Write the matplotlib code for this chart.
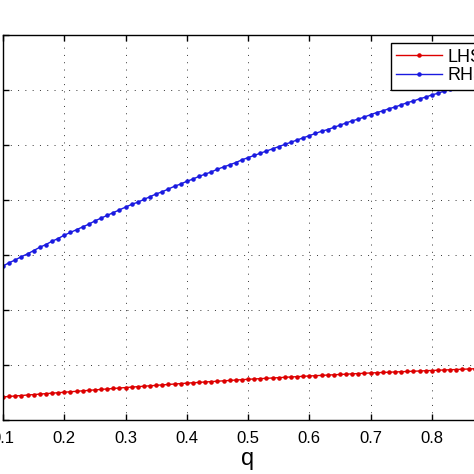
import numpy as np
import matplotlib
matplotlib.use('Agg')
import matplotlib.pyplot as plt

plt.rcParams['font.family'] = ['Liberation Sans', 'DejaVu Sans']

q = [round(0.10 + 0.01 * i, 2) for i in range(81)]

lhs = [0.420, 0.428, 0.437, 0.445, 0.454, 0.462, 0.471, 0.479, 0.488, 0.496, 0.505,
       0.513, 0.522, 0.530, 0.539, 0.547, 0.556, 0.564, 0.573, 0.581, 0.590,
       0.598, 0.606, 0.614, 0.622, 0.630, 0.638, 0.646, 0.654, 0.662, 0.670,
       0.677, 0.684, 0.691, 0.698, 0.705, 0.712, 0.719, 0.726, 0.733, 0.740,
       0.746, 0.752, 0.758, 0.764, 0.770, 0.776, 0.782, 0.788, 0.794, 0.800,
       0.806, 0.811, 0.817, 0.822, 0.828, 0.833, 0.839, 0.844, 0.850, 0.855,
       0.860, 0.864, 0.869, 0.873, 0.878, 0.882, 0.887, 0.891, 0.896, 0.900,
       0.905, 0.909, 0.914, 0.918, 0.923, 0.927, 0.932, 0.936, 0.941, 0.945]

rhs = [2.80, 2.86, 2.91, 2.97, 3.02, 3.08, 3.14, 3.19, 3.25, 3.30, 3.36,
       3.41, 3.46, 3.51, 3.56, 3.62, 3.67, 3.72, 3.77, 3.82, 3.87,
       3.92, 3.96, 4.01, 4.06, 4.11, 4.15, 4.20, 4.25, 4.29, 4.34,
       4.38, 4.43, 4.47, 4.51, 4.56, 4.60, 4.64, 4.68, 4.73, 4.77,
       4.81, 4.85, 4.89, 4.93, 4.97, 5.01, 5.05, 5.09, 5.13, 5.17,
       5.21, 5.25, 5.28, 5.32, 5.36, 5.40, 5.44, 5.47, 5.51, 5.55,
       5.59, 5.62, 5.66, 5.69, 5.73, 5.77, 5.80, 5.84, 5.87, 5.91,
       5.94, 5.98, 6.01, 6.05, 6.08, 6.12, 6.15, 6.19, 6.22, 6.26]

xticks = [0.1, 0.2, 0.3, 0.4, 0.5, 0.6, 0.7, 0.8, 0.9]
yticks = [0, 1, 2, 3, 4, 5, 6, 7]

fig = plt.figure(figsize=(4.74, 4.74), dpi=100)
# the original picture is a crop, axes run past the left/right edges
ax = fig.add_axes([3 / 474, 54 / 474, 490 / 474, 385 / 474])

ax.plot(q, lhs, color='#dd0000', marker='.', markersize=4.5, linewidth=1.0, label='LHS')
ax.plot(q, rhs, color='#1a1ae0', marker='.', markersize=4.5, linewidth=1.0, label='RHS')

ax.set_xlim(0.1, 0.9)
ax.set_ylim(0, 7)
ax.set_xticks(xticks)
ax.set_xticklabels([str(t) for t in xticks])
ax.set_yticks(yticks)

ax.grid(True, color='#333333', linestyle=(0, (1, 6.5)), linewidth=0.7)
ax.tick_params(direction='in', length=4, width=1, top=True, right=True,
               labelsize=12, pad=8)
for s in ax.spines.values():
    s.set_linewidth(1.0)

ax.set_xlabel('q', fontsize=17, labelpad=1)

leg = ax.legend(loc='upper left', bbox_to_anchor=(0.792, 0.979), borderaxespad=0,
                fontsize=13, fancybox=False, framealpha=1, edgecolor='k',
                handlelength=2.5, borderpad=0.3, labelspacing=0.1, handletextpad=0.3)
leg.get_frame().set_linewidth(1.0)

fig.savefig('out.png', dpi=100)
